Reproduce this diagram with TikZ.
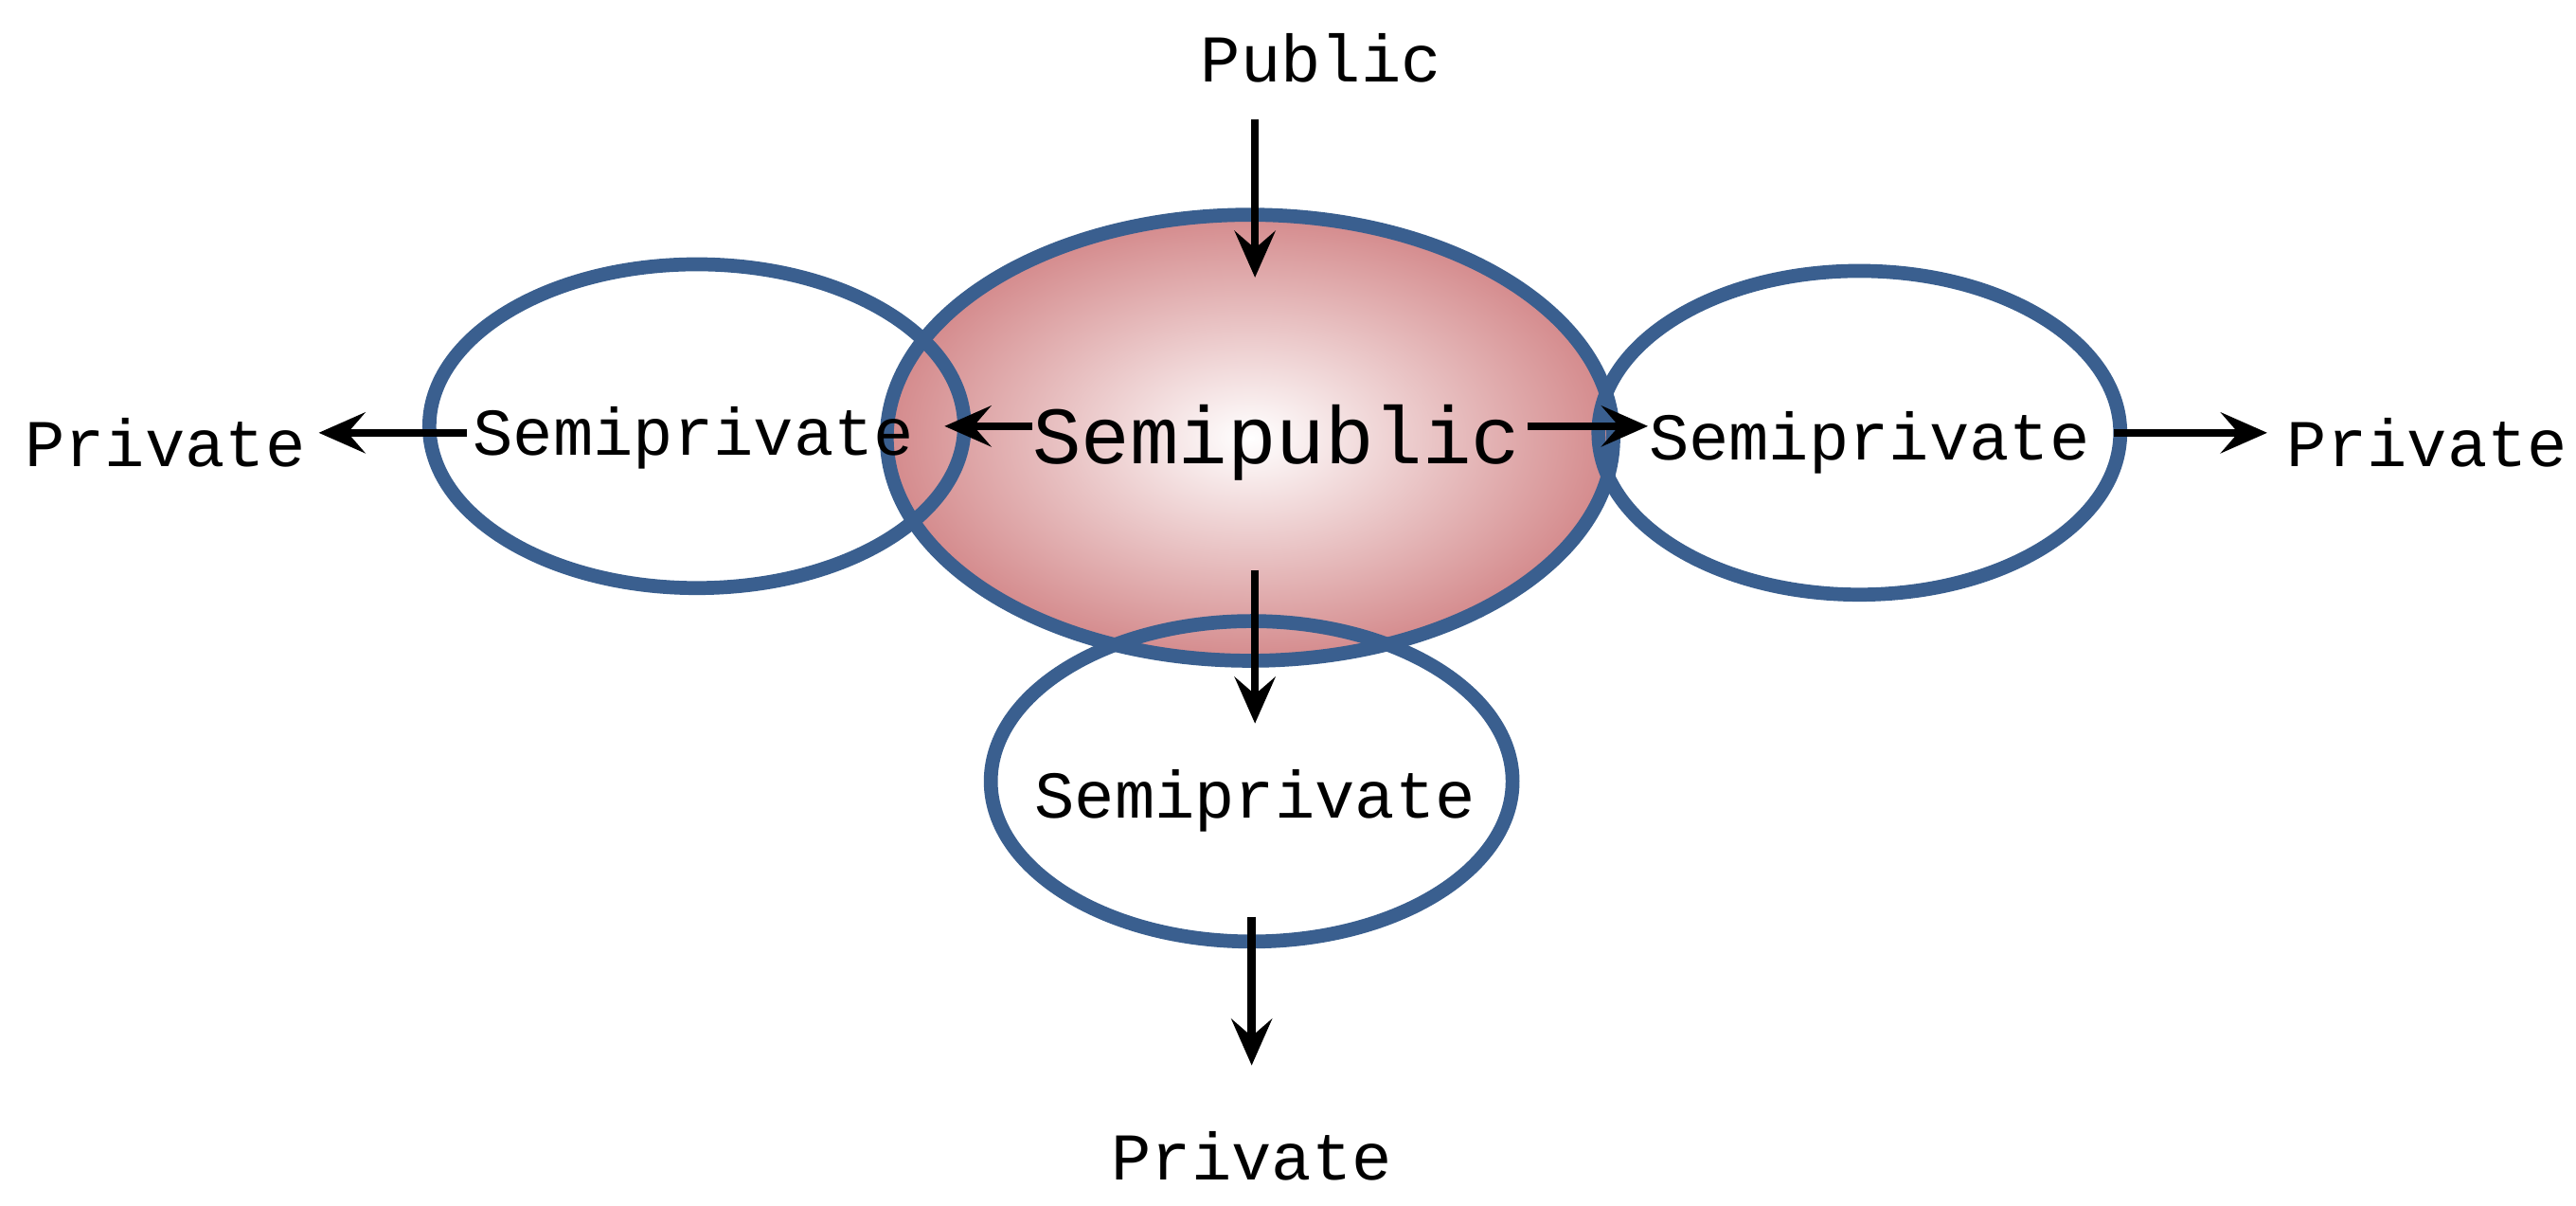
\documentclass[tikz,border=0pt]{standalone}
\usetikzlibrary{arrows.meta,shapes.geometric}
\usepackage{fontspec}
\setmainfont{Liberation Mono}
\definecolor{ringblue}{HTML}{3A5F8F}
\definecolor{pinkedge}{HTML}{D48A8C}
\begin{document}
\begin{tikzpicture}[x=0.01cm,y=-0.01cm,
  ring/.style={draw=ringblue,line width=2.4pt},
  lbl/.style={font=\fontsize{11.5}{13}\selectfont,inner sep=0pt},
  arr/.style={-{Stealth[length=8pt,width=7pt,inset=3pt]},line width=1.4pt}]
\useasboundingbox (0,0) rectangle (1560,730);
\fill[inner color=white,outer color=pinkedge] (757,265) ellipse [x radius=220,y radius=135];
\draw[ring] (422,258) ellipse [x radius=162,y radius=98];
\draw[ring] (1126,262) ellipse [x radius=158,y radius=98];
\draw[ring] (758,473) ellipse [x radius=158,y radius=97];
\draw[ring] (757,265) ellipse [x radius=220,y radius=135];
\node[lbl] (pub) at (800,35) {Public};
\node[lbl,font=\fontsize{14}{16}\selectfont] (sp) at (773,268) {Semipublic};
\node[lbl] (sl) at (420,265) {Semiprivate};
\node[lbl] (sr) at (1132,268) {Semiprivate};
\node[lbl] (sb) at (760,485) {Semiprivate};
\node[lbl] (pl) at (100,268) {Private};
\node[lbl] (pr) at (1470,268) {Private};
\node[lbl] (pb) at (758,700) {Private};
\coordinate (a1) at (760,72); \coordinate (a2) at (760,168);
\coordinate (b1) at (625,258); \coordinate (b2) at (572,258);
\coordinate (c1) at (925,258); \coordinate (c2) at (998,258);
\coordinate (d1) at (283,262); \coordinate (d2) at (193,262);
\coordinate (e1) at (1280,262); \coordinate (e2) at (1373,262);
\coordinate (f1) at (760,345); \coordinate (f2) at (760,438);
\coordinate (g1) at (758,555); \coordinate (g2) at (758,645);
\draw[arr] (a1) -- (a2);
\draw[arr] (b1) -- (b2);
\draw[arr] (c1) -- (c2);
\draw[arr] (d1) -- (d2);
\draw[arr] (e1) -- (e2);
\draw[arr] (f1) -- (f2);
\draw[arr] (g1) -- (g2);
\end{tikzpicture}
\end{document}
